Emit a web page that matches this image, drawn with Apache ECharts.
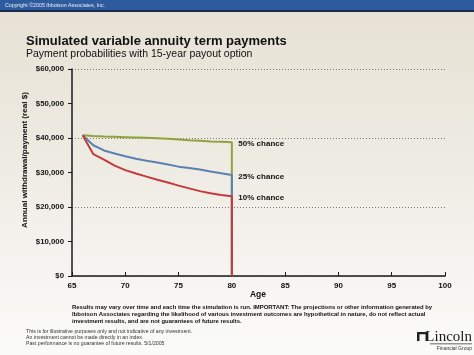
<!DOCTYPE html>
<html><head><meta charset="utf-8">
<script src="https://cdn.jsdelivr.net/npm/echarts@6/dist/echarts.min.js"></script>
<style>html,body{margin:0;padding:0;}#c{width:474px;height:355px;}</style>
</head><body><div id="c"></div>
<script>
const ages = [66,67,68,69,70,71,72,73,74,75,76,77,78,79,80];
const p50 = [40800,40600,40450,40350,40250,40150,40050,39950,39800,39600,39350,39200,39000,38900,38800];
const p25 = [40800,37900,36400,35500,34700,34000,33400,32900,32300,31700,31300,30900,30300,29800,29300];
const p10 = [40800,35300,33700,32000,30700,29700,28800,27900,27100,26200,25400,24600,24000,23500,23100];
const seriesNames = ['50% chance','25% chance','10% chance'];
const seriesColors = ['#8fa33b','#5b80b2','#c53a3b'];
const xTicks = [65,70,75,80,85,90,95,100];
const payoutEndAge = 80;

const F = '"Liberation Sans", Arial, Helvetica, sans-serif';
function pts(vals){ const d = ages.map((a,i)=>[a, vals[i]]); d.push([payoutEndAge, 0]); return d; }
function mkSeries(name, vals, color){
  return {
    name, type:'line', data: pts(vals), showSymbol:false, symbol:'none',
    lineStyle:{color, width:2}, itemStyle:{color}, animation:false, z:3,
    markPoint:{
      symbol:'circle', symbolSize:1, itemStyle:{color:'rgba(0,0,0,0)'},
      data:[{coord:[payoutEndAge, vals[vals.length-1]], value:name}],
      label:{show:true, position:'right', distance:6, offset:[0,1.5], formatter:name,
        color:'#111', fontFamily:F, fontWeight:'bold', fontSize:8}
    }
  };
}
const chart = echarts.init(document.getElementById('c'), null, {renderer:'canvas'});
chart.setOption({
  backgroundColor: new echarts.graphic.LinearGradient(0,0,0,1,[
    {offset:0,color:'#e6e1d3'},{offset:0.45,color:'#eeebe3'},{offset:1,color:'#fbfbfa'}]),
  animation:false,
  grid:{left:72, right:29, top:69, bottom:79, containLabel:false},
  xAxis:{type:'value', min:65, max:100, interval:5,
    axisLine:{lineStyle:{color:'#1a1a1a', width:1.5}},
    axisTick:{inside:true, length:4, lineStyle:{color:'#1a1a1a', width:1}},
    axisLabel:{color:'#111', fontFamily:F, fontWeight:'bold', fontSize:8, margin:6,
      formatter: v => xTicks.includes(v) ? String(v) : ''},
    splitLine:{show:false}
  },
  yAxis:[{type:'value', min:0, max:60000, interval:10000,
    axisLine:{show:true, lineStyle:{color:'#1a1a1a', width:1.5}},
    axisTick:{show:true, length:4, lineStyle:{color:'#1a1a1a'}},
    axisLabel:{color:'#111', fontFamily:F, fontWeight:'bold', fontSize:7.8, margin:8,
      formatter: v => '$' + v.toLocaleString('en-US')},
    splitLine:{show:false}
  },{type:'value', min:0, max:60000, interval:20000, position:'left',
    axisLine:{show:false}, axisTick:{show:false}, axisLabel:{show:false},
    splitLine:{show:true, lineStyle:{color:'#777', type:[1,2], width:1}}
  }],
  series:[mkSeries(seriesNames[0], p50, seriesColors[0]),
          mkSeries(seriesNames[1], p25, seriesColors[1]),
          mkSeries(seriesNames[2], p10, seriesColors[2])],
  graphic:[
    {type:'rect', shape:{x:0,y:0,width:474,height:11}, style:{fill:'#2e5b9e'}, silent:true},
    {type:'rect', shape:{x:0,y:10,width:474,height:2}, style:{fill:'#1b2d4c'}, silent:true},
    {type:'text', x:5, y:5.5, style:{text:'Copyright ©2005 Ibbotson Associates, Inc.', fill:'#e8eef8',
      font:'5.3px '+F, verticalAlign:'middle'}},
    {type:'text', x:26, y:41.5, style:{text:'Simulated variable annuity term payments', fill:'#111',
      font:'bold 13px '+F, verticalAlign:'middle'}},
    {type:'text', x:26, y:54, style:{text:'Payment probabilities with 15-year payout option', fill:'#111',
      font:'10.5px '+F, verticalAlign:'middle'}},
    {type:'text', x:25, y:160, rotation:Math.PI/2, style:{text:'Annual withdrawal/payment (real $)', fill:'#111',
      font:'bold 8.1px '+F, align:'center', verticalAlign:'middle'}},
    {type:'text', x:258, y:294.5, style:{text:'Age', fill:'#111', font:'bold 8.5px '+F, align:'center', verticalAlign:'middle'}},
    {type:'text', x:72, y:307.7, style:{text:'Results may vary over time and each time the simulation is run. IMPORTANT: The projections or other information generated by', fill:'#111', font:'bold 5.95px '+F, verticalAlign:'middle'}},
    {type:'text', x:72, y:314.3, style:{text:'Ibbotson Associates regarding the likelihood of various investment outcomes are hypothetical in nature, do not reflect actual', fill:'#111', font:'bold 5.95px '+F, verticalAlign:'middle'}},
    {type:'text', x:72, y:321, style:{text:'investment results, and are not guarantees of future results.', fill:'#111', font:'bold 5.95px '+F, verticalAlign:'middle'}},
    {type:'text', x:26, y:331.7, style:{text:'This is for illustrative purposes only and not indicative of any investment.', fill:'#333', font:'5.2px '+F, verticalAlign:'middle'}},
    {type:'text', x:26, y:337.7, style:{text:'An investment cannot be made directly in an index.', fill:'#333', font:'5.2px '+F, verticalAlign:'middle'}},
    {type:'text', x:26, y:343.5, style:{text:'Past performance is no guarantee of future results. 5/1/2005', fill:'#333', font:'5.2px '+F, verticalAlign:'middle'}},
    {type:'polygon', shape:{points:[[417,332],[428,332],[428,341],[425.5,341],[425.5,334.3],[419.5,334.3],[419.5,341],[417,341]]}, style:{fill:'#222'}},
    {type:'text', x:472, y:337, style:{text:'Lincoln', fill:'#1a1a1a', font:'15px "Liberation Serif", "Times New Roman", serif', align:'right', verticalAlign:'middle'}},
    {type:'rect', shape:{x:430,y:343.5,width:42,height:0.8}, style:{fill:'#333'}},
    {type:'text', x:472, y:349, style:{text:'Financial Group', fill:'#333', font:'5px '+F, align:'right', verticalAlign:'middle'}}
  ]
});
</script></body></html>
